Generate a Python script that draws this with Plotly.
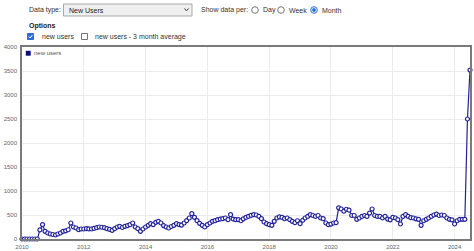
import pandas as pd
import plotly.graph_objects as go

# ---- data (monthly new users, Jan 2010 .. Jul 2024) ----
y2010 = [0, 0, 0, 0, 0, 0, 0, 190, 300, 160, 125, 104]
y2011 = [94, 83, 104, 125, 160, 170, 193, 333, 250, 229, 194, 208]
y2012 = [208, 215, 210, 208, 220, 235, 250, 245, 235, 215, 200, 180]
y2013 = [215, 250, 264, 240, 264, 280, 298, 333, 250, 215, 160, 208]
y2014 = [250, 285, 320, 300, 347, 368, 333, 280, 250, 229, 260, 285]
y2015 = [319, 300, 290, 333, 381, 437, 527, 451, 381, 326, 285, 250]
y2016 = [298, 333, 368, 381, 402, 416, 423, 437, 402, 506, 416, 402]
y2017 = [402, 380, 420, 450, 471, 492, 506, 500, 470, 423, 354, 319]
y2018 = [298, 285, 368, 437, 460, 450, 423, 437, 402, 368, 340, 380]
y2019 = [319, 390, 437, 471, 506, 490, 471, 490, 437, 423, 333, 298]
y2020 = [310, 333, 340, 650, 625, 580, 620, 600, 490, 490, 410, 437]
y2021 = [470, 490, 470, 540, 625, 490, 470, 470, 437, 470, 415, 400]
y2022 = [450, 437, 402, 312, 470, 506, 470, 445, 437, 420, 410, 284]
y2023 = [380, 410, 437, 470, 500, 520, 490, 500, 490, 437, 410, 400]
y2024 = [312, 380, 410, 410, 410, 2500, 3520]

values = (y2010 + y2011 + y2012 + y2013 + y2014 + y2015 + y2016 + y2017
          + y2018 + y2019 + y2020 + y2021 + y2022 + y2023 + y2024)
months = pd.date_range("2010-01-01", periods=len(values), freq="MS")

series_name = "new users"
y_ticks = [0, 500, 1000, 1500, 2000, 2500, 3000, 3500, 4000]

# ---- layout geometry ----
W, H = 474, 251
ML, MR, MT, MB = 22, 4, 47, 12
PW = W - ML - MR
PH = H - MT - MB


def px(x):
    return (x - ML) / PW


def py(y):
    return (H - MB - y) / PH


LINE = "#23239a"
FONT = "Liberation Sans, Arial, sans-serif"
TXT = "#333333"

fig = go.Figure()
fig.add_trace(go.Scatter(
    x=months, y=values, mode="lines+markers", name=series_name,
    line=dict(color=LINE, width=1.2),
    marker=dict(symbol="circle", size=4.0, color="white",
                line=dict(color=LINE, width=1.2)),
    cliponaxis=False, showlegend=False,
))

shapes = []
ann = []


def text(x, y, s, size=7, color=TXT, bold=False, anchor="left"):
    ann.append(dict(x=px(x), y=py(y), xref="paper", yref="paper", text=("<b>%s</b>" % s) if bold else s,
                    showarrow=False, xanchor=anchor, yanchor="middle",
                    font=dict(family=FONT, size=size, color=color)))


def rect(x0, y0, x1, y1, fill, line, lw=1):
    shapes.append(dict(type="rect", xref="paper", yref="paper",
                       x0=px(x0), x1=px(x1), y0=py(y1), y1=py(y0),
                       fillcolor=fill, line=dict(color=line, width=lw), layer="above"))


def circle(cx, cy, r, fill, line, lw=1):
    shapes.append(dict(type="circle", xref="paper", yref="paper",
                       x0=px(cx - r), x1=px(cx + r), y0=py(cy + r), y1=py(cy - r),
                       fillcolor=fill, line=dict(color=line, width=lw), layer="above"))


def path(points, color, lw=1):
    d = "M " + " L ".join("%f %f" % (px(a), py(b)) for a, b in points)
    shapes.append(dict(type="path", xref="paper", yref="paper", path=d,
                       line=dict(color=color, width=lw), layer="above"))


# form controls row
text(27, 10, "Data type:")
rect(63.5, 4, 192, 16, "#efefef", "#a9a9a9")
text(67, 10, "New Users", color="#222")
path([(184.5, 8.5), (186.5, 10.8), (188.5, 8.5)], "#333", 1)
text(199, 10, "Show data per:")
circle(255, 10, 3.3, "white", "#767676")
text(261, 10, "Day")
circle(281, 10, 3.3, "white", "#767676")
text(287, 10, "Week")
circle(314, 10, 3.3, "white", "#2a6fd6")
circle(314, 10, 1.7, "#2a6fd6", "#2a6fd6", 0.5)
text(320, 10, "Month")

# options
text(27, 26, "Options", bold=True, color="#222")
rect(27.5, 33.5, 33.5, 39.5, "#2a6fd6", "#2a6fd6")
path([(28.8, 36.6), (30.2, 38), (32.4, 35)], "white", 1)
text(39.5, 36.5, "new users")
rect(81.5, 33.5, 87.5, 39.5, "white", "#767676")
text(92.5, 36.5, "new users - 3 month average")

# in-plot legend
rect(25.5, 50.5, 31, 56, "#0d0d85", "#ffffff", 0.6)
text(31.5, 53.5, series_name, size=6, color="#555")

fig.update_layout(
    width=W, height=H,
    margin=dict(l=ML, r=MR, t=MT, b=MB, autoexpand=False),
    paper_bgcolor="white", plot_bgcolor="white",
    shapes=shapes, annotations=ann,
    xaxis=dict(
        type="date", range=[months[0], months[-1]],
        dtick="M24", tick0="2010-01-01", tickformat="%Y",
        showgrid=True, gridcolor="#ebebeb", gridwidth=1,
        showline=True, linecolor="#7a7a7a", linewidth=1.5, mirror=True,
        ticks="", ticklabelstandoff=1,
        tickfont=dict(family=FONT, size=6, color="#666"),
        zeroline=False, fixedrange=True,
    ),
    yaxis=dict(
        range=[0, 4000], tickvals=y_ticks,
        showgrid=True, gridcolor="#ebebeb", gridwidth=1,
        showline=True, linecolor="#7a7a7a", linewidth=1.5, mirror=True,
        ticks="", ticklabelstandoff=2,
        tickfont=dict(family=FONT, size=6, color="#666"),
        zeroline=False, fixedrange=True,
    ),
)

fig.write_html("out.html")
